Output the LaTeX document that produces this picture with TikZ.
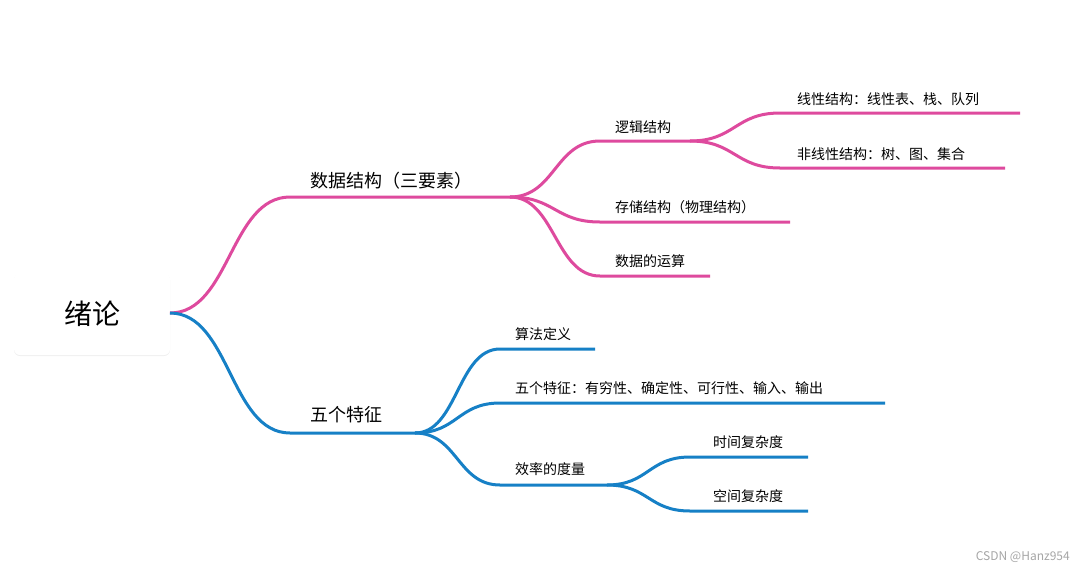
\documentclass[tikz,border=0pt]{standalone}
\usepackage{fontspec}
\setmainfont{Noto Sans CJK SC}
\usetikzlibrary{shadows}
\definecolor{pk}{HTML}{DE4A9E}
\definecolor{bl}{HTML}{1680C6}
\newcommand\mybranch[6]{%
  \pgfmathsetmacro\mx{(#2+#4)/2}%
  \draw[#1,line width=3pt] (#2,#3) .. controls (\mx,#3) and (\mx,#5) .. (#4,#5) -- (#6,#5);}
\begin{document}
\begin{tikzpicture}[x=1pt,y=-1pt,
  lbl/.style={anchor=base west,font=\fontsize{14}{14}\selectfont,inner sep=0},
  lbla/.style={anchor=base west,font=\fontsize{18}{18}\selectfont,inner sep=0}]
\useasboundingbox[fill=white] (0,0) rectangle (1084,571);
\node[draw=none,fill=white,rounded corners=6pt,minimum width=156pt,minimum height=82pt,
  drop shadow={opacity=0.12,shadow xshift=0pt,shadow yshift=-1pt}] (root) at (92,314)
  {\fontsize{28}{28}\selectfont 绪论};
% pink
\mybranch{pk}{170}{313}{290}{197}{510}
\mybranch{pk}{510}{197}{600}{141}{690}
\mybranch{pk}{510}{197}{600}{222}{790}
\mybranch{pk}{510}{197}{600}{276}{710}
\mybranch{pk}{690}{141}{780}{113}{1020}
\mybranch{pk}{690}{141}{780}{168}{1005}
% blue
\mybranch{bl}{170}{313}{290}{433}{415}
\mybranch{bl}{415}{433}{500}{349}{595}
\mybranch{bl}{415}{433}{500}{403}{885}
\mybranch{bl}{415}{433}{500}{485}{607}
\mybranch{bl}{607}{485}{690}{457}{808}
\mybranch{bl}{607}{485}{690}{511}{808}
\node[lbla] (a) at (310,187) {数据结构（三要素）};
\node[lbla] (b) at (310,421) {五个特征};
\node[lbl] (a1) at (615,132) {逻辑结构};
\node[lbl] (a11) at (797,104) {线性结构：线性表、栈、队列};
\node[lbl] (a12) at (797,159) {非线性结构：树、图、集合};
\node[lbl] (a2) at (615,212) {存储结构（物理结构）};
\node[lbl] (a3) at (615,266) {数据的运算};
\node[lbl] (b1) at (515,339) {算法定义};
\node[lbl] (b2) at (515,393) {五个特征：有穷性、确定性、可行性、输入、输出};
\node[lbl] (b3) at (515,474) {效率的度量};
\node[lbl] (b31) at (713,447) {时间复杂度};
\node[lbl] (b32) at (713,501) {空间复杂度};
\node[anchor=base east,font=\fontsize{12}{12}\selectfont,text=gray!70,inner sep=0] (w) at (1070,560) {CSDN @Hanz954};
\end{tikzpicture}
\end{document}
